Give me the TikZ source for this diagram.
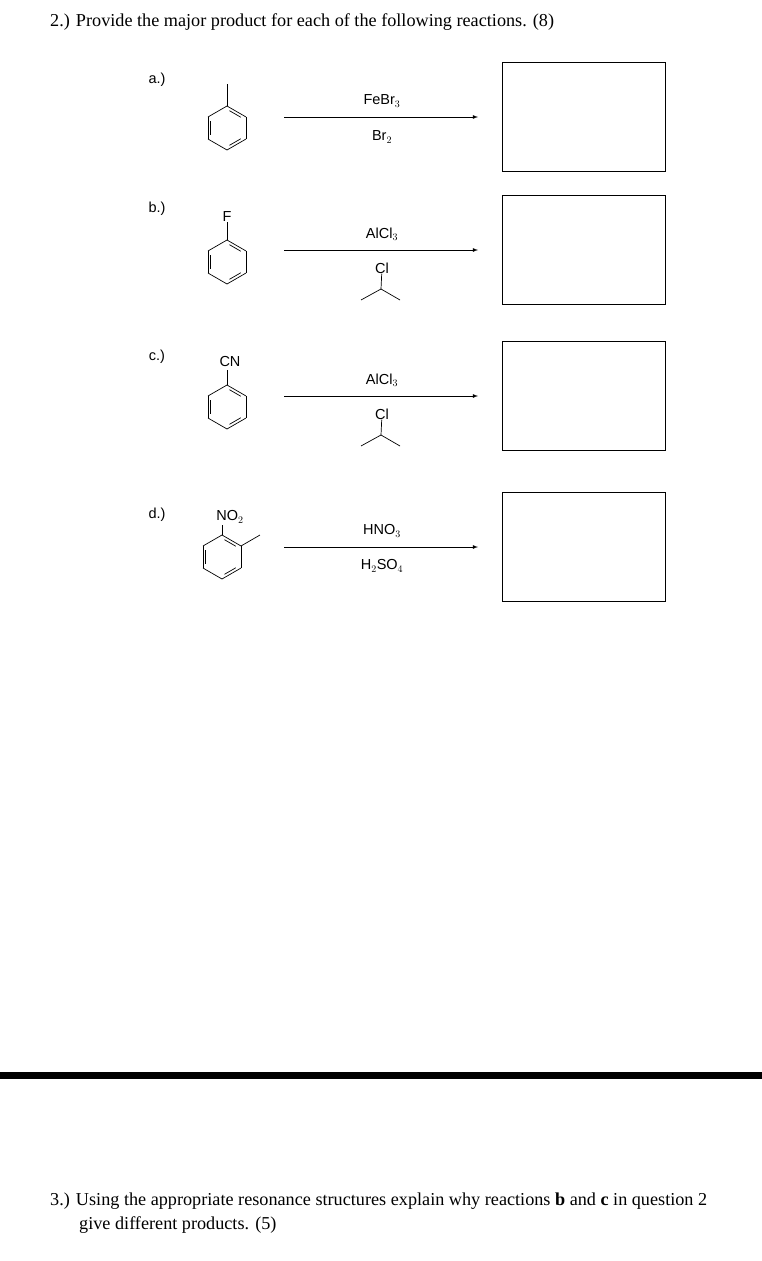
\documentclass[tikz,border=0pt]{standalone}
\usepackage{fontspec}
\setmainfont{Liberation Serif}
\newfontfamily\arial{Liberation Sans}
\usetikzlibrary{calc}
\begin{document}
\begin{tikzpicture}[x=1pt,y=-1pt,
  lbl/.style={font=\arial\fontsize{14.5}{17}\selectfont,inner sep=0pt},
  q/.style={font=\fontsize{18.2}{21}\selectfont,inner sep=0pt,anchor=west},
  pbox/.style={draw,line width=0.8pt},
  rx/.style={-latex,line width=0.8pt},
  bond/.style={line width=0.7pt}]
\useasboundingbox (0,0) rectangle (762,1261);
\newcommand\benz[2]{%
  \foreach \a in {90,150,...,390}{\draw[bond] ($(#1,#2)+(\a:22)$) -- ($(#1,#2)+(\a+60:22)$);}
  \foreach \a in {90,210,330}{\draw[bond] ($(#1,#2)+(\a-60+8:17.5)$) -- ($(#1,#2)+(\a-8:17.5)$);}}
\newcommand\ipr[2]{%
  \node[lbl] (cl#2) at (#1,#2) {Cl};
  \coordinate (v#2) at (#1-1,#2+21);
  \draw[bond] (cl#2) -- (v#2); \draw[bond] (v#2) -- ++(-20,11); \draw[bond] (v#2) -- ++(19,11);}
\node[q] (t2) at (50,22) {2.) Provide the major product for each of the following reactions. (8)};
% a
\node[lbl] (la) at (157,80) {a.)};
\benz{227}{128}
\coordinate (ma) at (227,84); \draw[bond] (227,106) -- (ma);
\node[lbl] (ra1) at (382,101) {FeBr$_3$};
\node[lbl] (ra2) at (382,137) {Br$_2$};
\coordinate (a1) at (284,117); \coordinate (a2) at (478,117); \draw[rx] (a1) -- (a2);
\draw[pbox] (502,62) rectangle (665,171);
% b
\node[lbl] (lb) at (157,209) {b.)};
\node[lbl] (fb) at (227,217) {F};
\benz{227}{262}
\draw[bond] (fb) -- (227,240);
\node[lbl] (rb1) at (382,234) {AlCl$_3$};
\ipr{382}{268}
\coordinate (b1) at (284,250); \coordinate (b2) at (478,250); \draw[rx] (b1) -- (b2);
\draw[pbox] (502,195) rectangle (665,304);
% c
\node[lbl] (lc) at (157,357) {c.)};
\node[lbl] (cn) at (230,362) {CN};
\benz{227}{407}
\draw[bond] (227,370) -- (227,385);
\node[lbl] (rc1) at (382,380) {AlCl$_3$};
\ipr{382}{414}
\coordinate (c1) at (284,396); \coordinate (c2) at (478,396); \draw[rx] (c1) -- (c2);
\draw[pbox] (502,341) rectangle (665,450);
% d
\node[lbl] (ld) at (157,515) {d.)};
\node[lbl] (no) at (230,517) {NO$_2$};
\benz{222}{557}
\draw[bond] (222,525) -- (222,535);
\draw[bond] (241,546) -- (260,535);
\node[lbl] (rd1) at (382,531) {HNO$_3$};
\node[lbl] (rd2) at (382,566) {H$_2$SO$_4$};
\coordinate (d1) at (284,547); \coordinate (d2) at (478,547); \draw[rx] (d1) -- (d2);
\draw[pbox] (502,492) rectangle (665,601);
% bar
\fill (0,1072) rectangle (762,1079);
\node[q] (t3a) at (50,1201) {3.) Using the appropriate resonance structures explain why reactions \textbf{b} and \textbf{c} in question 2};
\node[q] (t3b) at (79,1225) {give different products. (5)};
\end{tikzpicture}
\end{document}
